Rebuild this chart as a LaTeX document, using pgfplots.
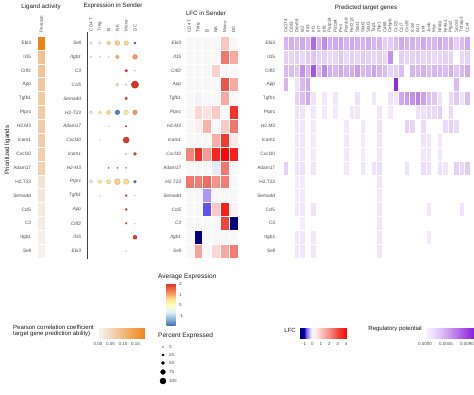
\documentclass[border=0pt]{standalone}
\usepackage{pgfplots}
\pgfplotsset{compat=1.18}
\usepackage{pgfplotstable}
\usepackage{fontspec}
\setmainfont{Liberation Sans}
\definecolor{tickgrey}{HTML}{4D4D4D}
\definecolor{titlecol}{HTML}{1A1A1A}
\newcommand\tfont{\fontsize{6.2}{7}\selectfont}
\newcommand\lfont{\fontsize{4.8}{5.5}\selectfont}
\newcommand\gfont{\fontsize{4.5}{5.5}\selectfont}
\newcommand\legfont{\fontsize{6}{7}\selectfont}
\newcommand\legtfont{\fontsize{6.5}{7.5}\selectfont}

\pgfplotsset{
  /pgf/number format/assume math mode=true,
  colormap={orng}{rgb255(0cm)=(246,246,248); rgb255(1.88cm)=(240,132,20)},
  colormap={lfcmap}{rgb255(0cm)=(0,0,120); rgb255(0.6cm)=(0,0,160); rgb255(0.8cm)=(100,80,240); rgb255(1.1cm)=(175,150,245); rgb255(1.4cm)=(230,228,248); rgb255(1.6cm)=(248,248,248); rgb255(1.9cm)=(255,238,238); rgb255(3.6cm)=(245,140,130); rgb255(4.6cm)=(238,70,60); rgb255(5.7cm)=(255,0,0)},
  colormap={expr}{rgb255(0cm)=(69,117,180); rgb255(0.64cm)=(145,191,219); rgb255(1.24cm)=(224,243,248); rgb255(1.84cm)=(255,255,191); rgb255(2.44cm)=(254,224,144); rgb255(3.04cm)=(252,141,89); rgb255(3.93cm)=(215,48,39)},
  colormap={purp}{rgb255(0cm)=(255,255,255); rgb255(0.01cm)=(249,244,253); rgb255(0.15cm)=(240,226,251); rgb255(0.40cm)=(216,180,243); rgb255(1.05cm)=(140,30,220)},
  hm/.style={anchor=north west, scale only axis, height=222pt, y dir=reverse, ymin=-0.5, ymax=15.5,
    axis line style={draw=none}, major tick length=0pt, clip=false,
    ytick={0,...,15}, yticklabel style={font=\lfont, text=tickgrey},
    xticklabel pos=upper, xticklabel style={rotate=90, anchor=west, font=\gfont, text=tickgrey}},
  cell/.style={scatter, only marks, mark=square*, mark size=6.935pt, point meta=explicit,
    scatter/use mapped color={draw=white, fill=mapped color}},
}

\pgfplotstableread{
r v
0 0.185
1 0.085
2 0.080
3 0.076
4 0.072
5 0.070
6 0.068
7 0.066
8 0.064
9 0.060
10 0.030
11 0.027
12 0.022
13 0.018
14 0.013
15 0.008
}\ligtab

\pgfplotstableread{
r c0 c1 c2 c3 c4 c5
0 0 0 0 0 1.0 0
1 0 0 0 0 2.3 1.5
2 0 0 0 0.8 0 0
3 0 0 0 0 2.8 1.5
4 0 -0.05 0 0 1.5 0
5 0 0.7 0.5 0.9 0 3.3
6 0 0.3 1.3 0 0.9 2.3
7 0 0 0 1.4 3.2 0.4
8 2.1 3.4 1.7 3.5 4.0 3.6
9 0 0 0 -0.15 2.3 0
10 2.3 2.2 2.5 1.9 2.2 0
11 0 0 -0.5 0 0 0
12 0 0 -0.8 0.9 3.6 0.2
13 0 0 0 0 3.0 -1.5
14 0 -1.5 0 0 0 0
15 0 1.6 0 0.7 1.5 2.2
}\lfctab

\pgfplotstableread{
r c0 c1 c2 c3 c4 c5 c6 c7 c8 c9 c10 c11 c12 c13 c14 c15 c16 c17 c18 c19 c20 c21 c22 c23 c24 c25 c26 c27 c28 c29 c30 c31 c32 c33
0 40 42 38 45 40 72 40 58 42 45 48 40 45 42 40 44 38 40 25 28 35 45 40 42 38 45 40 38 45 40 42 25 35 45
1 25 22 25 20 28 30 22 25 20 22 30 20 25 22 28 25 22 25 20 55 0 25 22 25 28 22 25 20 22 25 22 0 20 25
2 38 35 30 55 40 82 35 58 42 38 45 40 42 50 38 40 48 40 35 22 25 35 0 40 38 42 35 40 38 35 42 30 38 45
3 40 0 15 38 45 0 0 0 0 0 0 0 0 0 0 0 0 0 0 0 100 0 0 0 0 0 0 0 0 0 0 35 0 0
4 0 0 25 35 45 15 0 12 0 12 0 0 0 15 0 0 12 0 0 15 10 45 50 55 62 48 35 30 15 0 20 30 15 35
5 0 0 15 12 0 12 0 10 0 10 0 0 12 12 0 0 0 12 0 10 0 0 0 0 15 15 20 20 25 0 18 0 0 0
6 0 0 12 12 0 10 0 0 0 0 0 10 0 0 12 0 0 15 0 0 0 0 25 22 0 20 0 0 0 20 25 20 0 0
7 0 0 12 12 0 10 0 0 0 0 0 10 0 0 10 0 0 12 0 0 0 0 0 0 0 15 12 0 12 0 0 0 0 0
8 0 0 12 12 0 10 0 0 0 0 0 10 0 0 10 0 0 12 0 0 0 0 0 0 0 12 12 0 10 0 0 0 0 0
9 25 0 15 15 0 15 0 0 0 0 0 10 0 0 12 0 15 18 0 0 0 0 15 0 0 18 15 0 15 12 0 25 22 28
10 0 0 10 10 0 0 0 0 0 0 0 0 0 0 0 0 0 12 0 0 0 0 0 0 0 0 0 0 0 0 0 0 0 0
11 0 0 10 10 0 0 0 0 0 0 0 0 0 0 0 0 0 10 0 0 0 0 0 0 0 0 0 0 0 0 0 0 0 0
12 0 0 12 12 0 15 0 0 0 0 0 0 0 0 0 0 0 12 0 0 0 0 0 0 0 0 12 0 0 0 0 0 15 0
13 0 0 0 8 0 0 0 0 0 0 0 0 0 0 0 0 0 12 0 0 0 0 0 0 0 0 0 0 0 0 0 0 0 0
14 0 0 12 12 0 12 0 0 0 0 0 0 0 0 0 0 0 12 0 0 0 0 0 0 0 0 10 0 0 0 0 0 0 0
15 0 0 12 12 0 12 0 0 0 0 0 0 0 0 0 0 0 12 0 0 0 0 0 0 0 0 0 0 0 0 0 0 0 0
}\targettab

\pgfplotstableread{
x y s c
0 0 1.3 -0.5
1 0 1.3 -0.3
2 0 1.9 0.6
3 0 2.3 0.7
4 0 2.2 0.6
5 0 1.0 -1.8
0 1 0.6 -0.4
1 1 0.6 -0.4
2 1 0.6 -0.3
3 1 1.8 0.9
5 1 2.3 1.1
4 2 1.4 1.9
5 2 0.6 0.1
3 3 1.5 0.2
4 3 1.0 -0.4
5 3 3.6 2.05
4 4 1.2 1.95
0 5 1.6 -0.5
1 5 1.6 0.2
2 5 2.0 0.6
3 5 2.3 -1.7
4 5 2.2 0.3
5 5 2.2 1.1
2 6 0.5 -0.3
4 6 0.7 1.9
1 7 0.5 -0.3
4 7 3.0 2.0
4 8 1.0 0.3
5 8 1.5 1.8
2 9 0.6 -1.6
3 9 0.6 -1.6
4 9 0.6 1.2
0 10 1.7 -0.5
1 10 1.9 0.3
2 10 2.0 0.5
3 10 2.8 0.7
4 10 2.6 0.6
5 10 1.3 -1.8
1 11 0.5 -0.3
4 11 1.0 1.7
5 11 0.5 0.0
4 12 1.0 1.8
4 13 0.9 1.6
5 13 0.5 0.0
5 14 2.0 1.95
4 15 0.6 -0.3
}\dottab

\pgfplotstableread{
y s
347 0.4
355 1.0
363 1.7
372 2.4
381 3.0
}\pcttab

\begin{document}
\begin{tikzpicture}

% Ligand activity
\begin{axis}[hm, at={(37pt,-36pt)}, width=8.5pt, xmin=-0.5, xmax=0.5,
  colormap name=orng, point meta min=0, point meta max=0.188,
  xtick={0}, xticklabels={Pearson},
  yticklabels={Ebi3,Il15,Crlf2,App,Tgfb1,Ptprc,H2.M3,Icam1,Cxcl10,Adam17,H2.T23,Sema4d,Ccl5,C3,Itgb1,Sell},
  yticklabel style={xshift=-2.3pt}]
\addplot[cell, mark options={xscale=0.613}] table[x expr=0, y=r, meta=v] {\ligtab};
\end{axis}

% Expression dot plot
\begin{axis}[at={(87pt,-31.9pt)}, anchor=north west, scale only axis, width=53pt, height=227.5pt,
  xmin=-0.4545, xmax=5.57, ymin=-0.8, ymax=15.6, y dir=reverse, clip=false,
  axis x line=none, axis y line*=left, axis line style={line width=0.5pt, color=black!75},
  ytick={0,...,15},
  yticklabels={Sell,Itgb1,C3,Ccl5,Sema4d,H2-T23,Adam17,Cxcl10,Icam1,H2-M3,Ptprc,Tgfb1,App,Crlf2,Il15,Ebi3},
  yticklabel style={font=\lfont\itshape, text=tickgrey, xshift=-2.3pt}, major tick length=0pt,
  colormap name=expr, point meta min=-1.84, point meta max=2.09]
\addplot[scatter, only marks, mark=*, point meta=explicit,
  visualization depends on={\thisrow{s} \as \msz},
  scatter/@pre marker code/.append style={/tikz/mark size=\msz pt}]
  table[x=x, y=y, meta=c] {\dottab};
\foreach \i/\n in {0/CD4 T,1/Treg,2/B,3/NK,4/Mono,5/DC}{
  \edef\tmp{\noexpand\node[rotate=90, anchor=west, font=\noexpand\gfont, text=tickgrey, inner sep=0pt] at (axis cs:\i,-0.85) {\n};}\tmp}
\end{axis}

% LFC heatmap
\begin{axis}[hm, at={(185pt,-36pt)}, width=53pt, xmin=-0.5, xmax=5.5,
  colormap name=lfcmap, point meta min=-1.6, point meta max=4.1,
  xtick={0,...,5}, xticklabels={CD4 T,Treg,B,NK,Mono,DC},
  yticklabels={Ebi3,Il15,Crlf2,App,Tgfb1,Ptprc,H2.M3,Icam1,Cxcl10,Adam17,H2.T23,Sema4d,Ccl5,C3,Itgb1,Sell},
  yticklabel style={font=\lfont\itshape, xshift=-0.3pt}]
\pgfplotsinvokeforeach{0,...,5}{
\addplot[cell, mark options={xscale=0.637}] table[x expr=#1, y=r, meta=c#1] {\lfctab};
}
\end{axis}

% Target genes heatmap
\begin{axis}[hm, at={(283pt,-36pt)}, width=187pt, xmin=-0.5, xmax=33.5,
  colormap name=purp, point meta min=0, point meta max=105,
  xtick={0,...,33},
  xticklabels={Cd274,Cd83,Ddx58,Id2,Ifit3,Irf1,Irf7,Irf9,Parp14,Pdcd4,Pml,Psmb9,Rnf213,Stat1,Stat2,Stat3,Tap1,Zbp1,Cd69,Cebpb,Ccl22,Ccr7,Cxcl9,Icosl,Il4i1,Irf4,Junb,Myc,Nfkb1,Nr4a1,Ptgs2,Socs3,Tnfaip3,Ccr4},
  yticklabels={Ebi3,Il15,Crlf2,App,Tgfb1,Ptprc,H2.M3,Icam1,Cxcl10,Adam17,H2.T23,Sema4d,Ccl5,C3,Itgb1,Sell},
  yticklabel style={xshift=-4.3pt}]
\pgfplotsinvokeforeach{0,...,33}{
\addplot[cell, mark options={xscale=0.3966}] table[x expr=#1, y=r, meta=c#1] {\targettab};
}
\end{axis}

% Pearson legend
\begin{axis}[at={(98pt,-320pt)}, anchor=north west, scale only axis, width=47pt, height=10pt, hide axis,
  xmin=0, xmax=1, ymin=0, ymax=1,
  colormap name=orng, point meta min=0, point meta max=0.188,
  colorbar horizontal,
  colorbar style={at={(parent axis.south west)}, anchor=south west, scale only axis, width=47pt, height=10pt,
    xtick={0,0.05,0.1,0.15}, axis line style={draw=none}, major tick length=0pt,
    xticklabel style={font=\gfont, text=tickgrey, /pgf/number format/.cd, fixed, fixed zerofill, precision=2}}]
\addplot[draw=none] coordinates {(0,0)};
\end{axis}

% Average expression legend
\begin{axis}[at={(158pt,-283pt)}, anchor=north west, scale only axis, width=9pt, height=42pt, hide axis,
  xmin=0, xmax=1, ymin=0, ymax=1,
  colormap name=expr, point meta min=-1.84, point meta max=2.09,
  colorbar,
  colorbar style={at={(parent axis.north west)}, anchor=north west, scale only axis, width=9pt, height=42pt,
    ytick={-1,0,1,2}, axis line style={draw=none}, major tick length=0pt,
    yticklabel style={font=\gfont, text=tickgrey}}]
\addplot[draw=none] coordinates {(0,0)};
\end{axis}

% Percent expressed legend
\begin{axis}[at={(158pt,-343pt)}, anchor=north west, scale only axis, width=10pt, height=42pt, hide axis, clip=false,
  xmin=158, xmax=168, ymin=343, ymax=385, y dir=reverse]
\addplot[scatter, only marks, mark=*, scatter/use mapped color={draw=black, fill=black},
  visualization depends on={\thisrow{s} \as \msz},
  scatter/@pre marker code/.append style={/tikz/mark size=\msz pt}]
  table[x expr=163, y=y] {\pcttab};
\node[anchor=west, font=\gfont, text=tickgrey, inner sep=0pt] at (axis cs:169,347) {0};
\node[anchor=west, font=\gfont, text=tickgrey, inner sep=0pt] at (axis cs:169,355) {25};
\node[anchor=west, font=\gfont, text=tickgrey, inner sep=0pt] at (axis cs:169,363) {50};
\node[anchor=west, font=\gfont, text=tickgrey, inner sep=0pt] at (axis cs:169,372) {75};
\node[anchor=west, font=\gfont, text=tickgrey, inner sep=0pt] at (axis cs:169,381) {100};
\end{axis}

% LFC legend
\begin{axis}[at={(299pt,-320pt)}, anchor=north west, scale only axis, width=48pt, height=10pt, hide axis,
  xmin=0, xmax=1, ymin=0, ymax=1,
  colormap name=lfcmap, point meta min=-1.6, point meta max=4.1,
  colorbar horizontal,
  colorbar style={at={(parent axis.south west)}, anchor=south west, scale only axis, width=48pt, height=10pt,
    xtick={-1,0,1,2,3,4}, axis line style={draw=none}, major tick length=0pt,
    xticklabel style={font=\gfont, text=tickgrey}}]
\addplot[draw=none] coordinates {(0,0)};
\end{axis}

% Regulatory potential legend
\begin{axis}[at={(425pt,-320pt)}, anchor=north west, scale only axis, width=49pt, height=10pt, hide axis,
  xmin=0, xmax=1, ymin=0, ymax=1,
  colormap name=purp, point meta min=0, point meta max=105,
  colorbar horizontal,
  colorbar style={at={(parent axis.south west)}, anchor=south west, scale only axis, width=49pt, height=10pt,
    xtick={0,45,90}, xticklabels={0.0000,0.0045,0.0090}, axis line style={draw=none}, major tick length=0pt,
    xticklabel style={font=\gfont, text=tickgrey}}]
\addplot[draw=none] coordinates {(0,0)};
\end{axis}

% Titles and legend texts
\node[font=\tfont, text=titlecol] at (41pt,-7pt) {Ligand activity};
\node[font=\tfont, text=titlecol] at (113pt,-6pt) {Expression in Sender};
\node[font=\tfont, text=titlecol] at (206pt,-13pt) {LFC in Sender};
\node[font=\tfont, text=titlecol] at (366pt,-8pt) {Predicted target genes};
\node[font=\tfont, text=titlecol, rotate=90] at (7.5pt,-150pt) {Prioritized ligands};
\node[font=\legfont, text=titlecol, anchor=west, inner sep=0pt] at (13pt,-327pt) {Pearson correlation coefficient};
\node[font=\legfont, text=titlecol, anchor=west, inner sep=0pt] at (13pt,-333.5pt) {target gene prediction ability)};
\node[font=\legtfont, text=titlecol, anchor=west, inner sep=0pt] at (158pt,-277pt) {Average Expression};
\node[font=\legtfont, text=titlecol, anchor=west, inner sep=0pt] at (158pt,-336pt) {Percent Expressed};
\node[font=\legfont, text=titlecol, anchor=east, inner sep=0pt] at (296pt,-330pt) {LFC};
\node[font=\legfont, text=titlecol, anchor=east, inner sep=0pt] at (422pt,-328.5pt) {Regulatory potential};

\pgfresetboundingbox
\path[use as bounding box] (0pt,0pt) rectangle (474pt,-395pt);
\end{tikzpicture}
\end{document}
